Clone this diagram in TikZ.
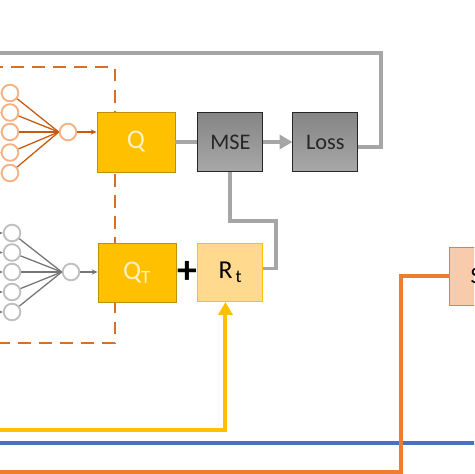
\documentclass[tikz,border=0pt]{standalone}
\usepackage{fontspec}
\setmainfont{Carlito}
\usepackage{tikz}
\definecolor{qgold}{HTML}{FFC000}
\definecolor{qgoldline}{HTML}{BF9000}
\definecolor{qtext}{HTML}{FFF0C0}
\definecolor{rfill}{HTML}{FFD98E}
\definecolor{linkgray}{HTML}{A6A6A6}
\definecolor{boxtop}{HTML}{858585}
\definecolor{boxbot}{HTML}{A8A8A8}
\definecolor{sorange}{HTML}{ED7D31}
\definecolor{sfill}{HTML}{F8CBAD}
\definecolor{lineblue}{HTML}{4472C4}
\definecolor{nnorange}{HTML}{F4B183}
\definecolor{edgeorange}{HTML}{C55A11}
\definecolor{nngray}{HTML}{BFBFBF}
\definecolor{edgegray}{HTML}{767676}
\usetikzlibrary{arrows.meta, positioning, calc}

\begin{document}
\begin{tikzpicture}[
    x=0.03cm, y=-0.03cm,
    qbox/.style={rectangle, draw=qgoldline, fill=qgold, line width=0.8pt,
                minimum width=2.34cm, minimum height=1.8cm, text=qtext,
                font=\fontsize{23}{24}\selectfont},
    graybox/.style={rectangle, draw=black!85, top color=boxtop, bottom color=boxbot,
                line width=0.8pt, minimum width=1.95cm, minimum height=1.75cm,
                font=\fontsize{19}{20}\selectfont, text=black!85},
    rbox/.style={rectangle, draw=qgold, fill=rfill, line width=0.8pt,
                minimum width=1.95cm, minimum height=1.74cm,
                font=\fontsize{22}{24}\selectfont},
    sbox/.style={rectangle, draw=sorange, fill=sfill, line width=0.8pt,
                minimum width=1.62cm, minimum height=1.74cm,
                font=\fontsize{20}{22}\selectfont},
    neuron/.style={circle, line width=1.6pt, fill=white, minimum size=0.5cm, inner sep=0pt},
    link/.style={line width=3.4pt, linkgray},
    wire/.style={line width=1.1pt},
    wirearrow/.style={-{Stealth[length=5pt, width=4.5pt]}, line width=1.1pt}
]
    \useasboundingbox (0,0) rectangle (474,474);
    \clip (0,0) rectangle (474,474);

    % target network frame
    \draw[sorange!90!black, line width=1.8pt, dash pattern=on 11pt off 7pt]
        (-10,67) -- (115,67) -- (115,343) -- (-10,343);

    % online network
    \foreach \i/\y in {1/93, 2/112.5, 3/132, 4/152.5, 5/173} {
        \node[neuron, draw=nnorange] (qin\i) at (10,\y) {};
        \coordinate (qsrc\i) at (-14,\y);
        \draw[wirearrow, edgeorange] (qsrc\i) -- (qin\i);
    }
    \node[neuron, draw=nnorange] (qout) at (68,132) {};
    \foreach \i in {1,...,5} \draw[wire, edgeorange] (qin\i) -- (qout.west);

    % target network
    \foreach \i/\y in {1/233, 2/252.5, 3/272, 4/292, 5/312} {
        \node[neuron, draw=nngray] (tin\i) at (12,\y) {};
        \coordinate (tsrc\i) at (-14,\y);
        \draw[wirearrow, edgegray] (tsrc\i) -- (tin\i);
    }
    \node[neuron, draw=nngray] (tout) at (71,272) {};
    \foreach \i in {1,...,5} \draw[wire, edgegray] (tin\i) -- (tout.west);

    \node[qbox] (q) at (136,142) {Q};
    \node[graybox, right=0.66cm of q] (mse) {MSE};
    \node[graybox, right=0.87cm of mse] (loss) {Loss};
    \node[qbox, minimum height=1.77cm] (qt) at (137,272.5) {Q\textsubscript{T}};
    \node[rbox, right=0.63cm of qt] (rt) {R\textsubscript{\,t}};
    \node[font=\fontsize{34}{34}\selectfont\bfseries] (plus) at ($(qt.east)!0.5!(rt.west)$) {+};
    \node[sbox] (state) at (476,276) {S};

    \draw[wirearrow, edgeorange] (qout.east) -- (qout.east -| q.west);
    \draw[wirearrow, edgegray] (tout.east) -- (tout.east -| qt.west);

    \draw[link] (q) -- (mse);
    \draw[link, -{Triangle[length=11pt, width=12pt]}] (mse) -- (loss);
    \coordinate (back) at (-10,53);
    \draw[link] ($(loss.east)+(0,5)$) -- ++(23,0) |- (back);
    \draw[link] (mse.south) |- ++(46,49) |- ($(rt.east)+(0,-4)$);

    % rails at the bottom
    \coordinate (ystart) at (-10,430);
    \coordinate (bstart) at (-10,443);
    \coordinate (bend) at (484,443);
    \coordinate (ostart) at (-10,472);
    \draw[qgold, line width=3.4pt, -{Triangle[length=11pt, width=12pt]}]
        (ystart) -| ($(rt.south)+(-5,0)$);
    \draw[lineblue, line width=2.8pt] (bstart) -- (bend);
    \draw[sorange, line width=3.4pt] (ostart) -| ($(state.west)+(-48,0)$) -- (state.west);
\end{tikzpicture}
\end{document}
